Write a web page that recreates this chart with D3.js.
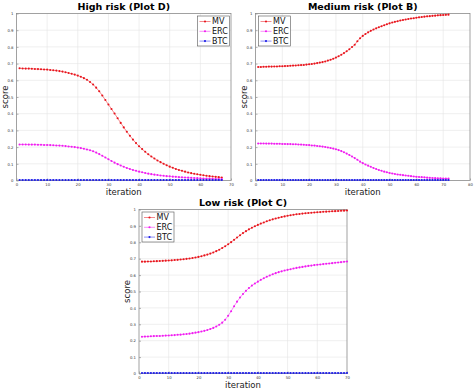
<!DOCTYPE html>
<html>
<head>
<meta charset="utf-8">
<script src="https://cdn.jsdelivr.net/npm/d3@7"></script>
<style>
  body { margin: 0; background: #fff; }
  svg { display: block; font-family: "DejaVu Sans", sans-serif; }
</style>
</head>
<body>
<div id="chart"></div>
<script>
// ---- data (one value per iteration, starting at 1) ----
const seriesNames = ["MV", "ERC", "BTC"];
const yTicks = [0, 0.1, 0.2, 0.3, 0.4, 0.5, 0.6, 0.7, 0.8, 0.9, 1];

// High risk (Plot D)
const highMV = [0.672, 0.671, 0.670, 0.670, 0.669, 0.668, 0.667, 0.666, 0.665, 0.664,
  0.662, 0.660, 0.658, 0.655, 0.652, 0.648, 0.644, 0.639, 0.634, 0.628,
  0.621, 0.613, 0.603, 0.590, 0.575, 0.556, 0.534, 0.509, 0.482, 0.455,
  0.428, 0.401, 0.373, 0.345, 0.318, 0.292, 0.268, 0.245, 0.224, 0.205,
  0.188, 0.172, 0.157, 0.144, 0.132, 0.120, 0.110, 0.100, 0.091, 0.083,
  0.076, 0.069, 0.063, 0.058, 0.053, 0.048, 0.044, 0.040, 0.037, 0.034,
  0.031, 0.028, 0.026, 0.024, 0.022, 0.020, 0.018];
const highERC = [0.216, 0.216, 0.216, 0.215, 0.215, 0.215, 0.214, 0.214, 0.213, 0.213,
  0.212, 0.211, 0.210, 0.209, 0.208, 0.206, 0.204, 0.202, 0.200, 0.197,
  0.194, 0.190, 0.186, 0.181, 0.175, 0.167, 0.158, 0.148, 0.138, 0.127,
  0.117, 0.107, 0.098, 0.090, 0.082, 0.075, 0.069, 0.063, 0.058, 0.053,
  0.049, 0.045, 0.041, 0.038, 0.035, 0.033, 0.030, 0.028, 0.026, 0.025,
  0.023, 0.022, 0.020, 0.019, 0.018, 0.017, 0.016, 0.015, 0.014, 0.013,
  0.012, 0.011, 0.011, 0.010, 0.009, 0.009, 0.008];
const highBTC = [0.003, 0.003, 0.003, 0.003, 0.003, 0.003, 0.003, 0.003, 0.003, 0.003,
  0.003, 0.003, 0.003, 0.003, 0.003, 0.003, 0.003, 0.003, 0.003, 0.003,
  0.003, 0.003, 0.003, 0.003, 0.003, 0.003, 0.003, 0.003, 0.003, 0.003,
  0.003, 0.003, 0.003, 0.003, 0.003, 0.003, 0.003, 0.003, 0.003, 0.003,
  0.003, 0.003, 0.003, 0.003, 0.003, 0.003, 0.003, 0.003, 0.003, 0.003,
  0.003, 0.003, 0.003, 0.003, 0.003, 0.003, 0.003, 0.003, 0.003, 0.003,
  0.003, 0.003, 0.003, 0.003, 0.003, 0.003, 0.003];

// Medium risk (Plot B)
const medMV = [0.680, 0.680, 0.681, 0.681, 0.682, 0.682, 0.683, 0.683, 0.684, 0.684,
  0.685, 0.686, 0.687, 0.688, 0.689, 0.690, 0.691, 0.692, 0.694, 0.696,
  0.698, 0.700, 0.703, 0.706, 0.709, 0.713, 0.718, 0.723, 0.729, 0.736,
  0.744, 0.753, 0.763, 0.774, 0.786, 0.799, 0.813, 0.834, 0.852, 0.866,
  0.877, 0.887, 0.896, 0.904, 0.911, 0.918, 0.924, 0.930, 0.936, 0.941,
  0.946, 0.950, 0.954, 0.958, 0.961, 0.964, 0.967, 0.970, 0.972, 0.975,
  0.977, 0.979, 0.981, 0.983, 0.984, 0.986, 0.987, 0.989, 0.990, 0.991,
  0.992, 0.993];
const medERC = [0.222, 0.222, 0.222, 0.221, 0.221, 0.221, 0.220, 0.220, 0.220, 0.219,
  0.219, 0.218, 0.218, 0.217, 0.217, 0.216, 0.215, 0.214, 0.213, 0.212,
  0.210, 0.209, 0.207, 0.205, 0.203, 0.201, 0.198, 0.195, 0.191, 0.187,
  0.182, 0.176, 0.169, 0.161, 0.153, 0.144, 0.134, 0.124, 0.113, 0.104,
  0.096, 0.089, 0.082, 0.075, 0.069, 0.063, 0.058, 0.053, 0.049, 0.045,
  0.042, 0.039, 0.036, 0.034, 0.032, 0.030, 0.028, 0.026, 0.024, 0.022,
  0.021, 0.020, 0.019, 0.017, 0.016, 0.015, 0.014, 0.013, 0.013, 0.012,
  0.012, 0.011];
const medBTC = [0.003, 0.003, 0.003, 0.003, 0.003, 0.003, 0.003, 0.003, 0.003, 0.003,
  0.003, 0.003, 0.003, 0.003, 0.003, 0.003, 0.003, 0.003, 0.003, 0.003,
  0.003, 0.003, 0.003, 0.003, 0.003, 0.003, 0.003, 0.003, 0.003, 0.003,
  0.003, 0.003, 0.003, 0.003, 0.003, 0.003, 0.003, 0.003, 0.003, 0.003,
  0.003, 0.003, 0.003, 0.003, 0.003, 0.003, 0.003, 0.003, 0.003, 0.003,
  0.003, 0.003, 0.003, 0.003, 0.003, 0.003, 0.003, 0.003, 0.003, 0.003,
  0.003, 0.003, 0.003, 0.003, 0.003, 0.003, 0.003, 0.003, 0.003, 0.003,
  0.003, 0.003];

// Low risk (Plot C)
const lowMV = [0.682, 0.682, 0.683, 0.683, 0.684, 0.685, 0.686, 0.687, 0.688, 0.689,
  0.690, 0.692, 0.693, 0.695, 0.697, 0.699, 0.701, 0.704, 0.707, 0.711,
  0.715, 0.720, 0.725, 0.731, 0.738, 0.746, 0.755, 0.765, 0.776, 0.788,
  0.801, 0.815, 0.829, 0.843, 0.856, 0.868, 0.879, 0.889, 0.898, 0.906,
  0.914, 0.921, 0.928, 0.934, 0.940, 0.945, 0.950, 0.954, 0.958, 0.962,
  0.965, 0.968, 0.971, 0.973, 0.975, 0.977, 0.979, 0.980, 0.982, 0.983,
  0.984, 0.986, 0.987, 0.988, 0.989, 0.990, 0.991, 0.992, 0.993, 0.994];
const lowERC = [0.224, 0.225, 0.226, 0.227, 0.228, 0.229, 0.229, 0.230, 0.231, 0.232,
  0.233, 0.234, 0.236, 0.237, 0.239, 0.241, 0.243, 0.246, 0.249, 0.252,
  0.256, 0.260, 0.265, 0.271, 0.278, 0.287, 0.297, 0.310, 0.328, 0.352,
  0.380, 0.410, 0.438, 0.463, 0.485, 0.504, 0.521, 0.536, 0.549, 0.560,
  0.571, 0.581, 0.590, 0.598, 0.605, 0.612, 0.618, 0.623, 0.628, 0.632,
  0.636, 0.640, 0.644, 0.647, 0.650, 0.653, 0.656, 0.658, 0.661, 0.663,
  0.665, 0.667, 0.669, 0.671, 0.673, 0.675, 0.677, 0.679, 0.681, 0.683];
const lowBTC = [0.003, 0.003, 0.003, 0.003, 0.003, 0.003, 0.003, 0.003, 0.003, 0.003,
  0.003, 0.003, 0.003, 0.003, 0.003, 0.003, 0.003, 0.003, 0.003, 0.003,
  0.003, 0.003, 0.003, 0.003, 0.003, 0.003, 0.003, 0.003, 0.003, 0.003,
  0.003, 0.003, 0.003, 0.003, 0.003, 0.003, 0.003, 0.003, 0.003, 0.003,
  0.003, 0.003, 0.003, 0.003, 0.003, 0.003, 0.003, 0.003, 0.003, 0.003,
  0.003, 0.003, 0.003, 0.003, 0.003, 0.003, 0.003, 0.003, 0.003, 0.003,
  0.003, 0.003, 0.003, 0.003, 0.003, 0.003, 0.003, 0.003, 0.003, 0.003];

const colors = { MV: "#e8141c", ERC: "#f01cf0", BTC: "#1c1ce8" };

const width = 474;
const height = 389;

const svg = d3.select("#chart")
    .append("svg")
    .attr("width", width)
    .attr("height", height);

drawPanel({
    title: "High risk (Plot D)",
    left: 16.5, top: 13.5, right: 231, bottom: 180.5,
    xMax: 70,
    series: [highMV, highERC, highBTC],
    legend: "right"
});

drawPanel({
    title: "Medium risk (Plot B)",
    left: 255.5, top: 13.5, right: 470, bottom: 180.5,
    xMax: 80,
    series: [medMV, medERC, medBTC],
    legend: "left"
});

drawPanel({
    title: "Low risk (Plot C)",
    left: 139, top: 209.5, right: 347, bottom: 373.5,
    xMax: 70,
    series: [lowMV, lowERC, lowBTC],
    legend: "left"
});

function drawPanel(p) {
    const g = svg.append("g");

    const x = d3.scaleLinear().domain([0, p.xMax]).range([p.left, p.right]);
    const y = d3.scaleLinear().domain([0, 1]).range([p.bottom, p.top]);
    const xTicks = d3.range(0, p.xMax + 1, 10);

    // grid
    g.append("g")
        .selectAll("line.gx")
        .data(xTicks.slice(1, -1))
        .enter().append("line")
        .attr("x1", d => x(d)).attr("x2", d => x(d))
        .attr("y1", p.top).attr("y2", p.bottom)
        .attr("stroke", "#e4e4e4")
        .attr("stroke-width", 0.6);

    g.append("g")
        .selectAll("line.gy")
        .data(yTicks.slice(1, -1))
        .enter().append("line")
        .attr("x1", p.left).attr("x2", p.right)
        .attr("y1", d => y(d)).attr("y2", d => y(d))
        .attr("stroke", "#e4e4e4")
        .attr("stroke-width", 0.6);

    // axes (MATLAB style, ticks inside)
    const xAxis = g.append("g")
        .attr("transform", `translate(0,${p.bottom})`)
        .call(d3.axisBottom(x).tickValues(xTicks).tickSize(-2).tickPadding(3));
    const yAxis = g.append("g")
        .attr("transform", `translate(${p.left},0)`)
        .call(d3.axisLeft(y).tickValues(yTicks).tickSize(-2).tickPadding(3)
            .tickFormat(d => d === 0 ? "0" : d === 1 ? "1" : d3.format(".1f")(d)));

    [xAxis, yAxis].forEach(a => {
        a.select(".domain").remove();
        a.selectAll("line").attr("stroke", "#666").attr("stroke-width", 0.5);
        a.selectAll("text")
            .attr("fill", "#333")
            .style("font-size", "3.8px")
            .style("font-family", "DejaVu Sans, sans-serif");
    });

    // box
    g.append("rect")
        .attr("x", p.left).attr("y", p.top)
        .attr("width", p.right - p.left).attr("height", p.bottom - p.top)
        .attr("fill", "none")
        .attr("stroke", "#8a8a8a")
        .attr("stroke-width", 0.8);

    // series
    const line = d3.line()
        .x((d, i) => x(i + 1))
        .y(d => y(d));

    p.series.forEach((values, k) => {
        const c = colors[seriesNames[k]];
        g.append("path")
            .datum(values)
            .attr("d", line)
            .attr("fill", "none")
            .attr("stroke", c)
            .attr("stroke-width", 0.5);

        g.append("g")
            .selectAll("circle")
            .data(values)
            .enter().append("circle")
            .attr("cx", (d, i) => x(i + 1))
            .attr("cy", d => y(d))
            .attr("r", 1.05)
            .attr("fill", c);
    });

    // title
    g.append("text")
        .attr("x", (p.left + p.right) / 2)
        .attr("y", p.top - 4)
        .attr("text-anchor", "middle")
        .style("font-size", "9.5px")
        .style("font-weight", "bold")
        .text(p.title);

    // axis labels
    g.append("text")
        .attr("x", (p.left + p.right) / 2)
        .attr("y", p.bottom + 14)
        .attr("text-anchor", "middle")
        .style("font-size", "8.5px")
        .attr("fill", "#222")
        .text("iteration");

    g.append("text")
        .attr("transform", `translate(${p.left - 9},${(p.top + p.bottom) / 2}) rotate(-90)`)
        .attr("text-anchor", "middle")
        .style("font-size", "8.5px")
        .attr("fill", "#222")
        .text("score");

    // legend
    const lw = 32, lh = 30;
    const lx = p.legend === "right" ? p.right - lw - 1.5 : p.left + 3;
    const ly = p.top + 2.5;
    const legend = g.append("g").attr("transform", `translate(${lx},${ly})`);

    legend.append("rect")
        .attr("width", lw).attr("height", lh)
        .attr("fill", "#fff")
        .attr("stroke", "#555")
        .attr("stroke-width", 0.6);

    seriesNames.forEach((name, i) => {
        const cy = 5.5 + i * 9.8;
        legend.append("line")
            .attr("x1", 2).attr("x2", 13)
            .attr("y1", cy).attr("y2", cy)
            .attr("stroke", colors[name])
            .attr("stroke-width", 0.5);
        legend.append("circle")
            .attr("cx", 7.5).attr("cy", cy)
            .attr("r", 1.05)
            .attr("fill", colors[name]);
        legend.append("text")
            .attr("x", 14.5)
            .attr("y", cy)
            .attr("dy", "0.35em")
            .style("font-size", "8px")
            .attr("fill", "#111")
            .text(name);
    });
}
</script>
</body>
</html>
